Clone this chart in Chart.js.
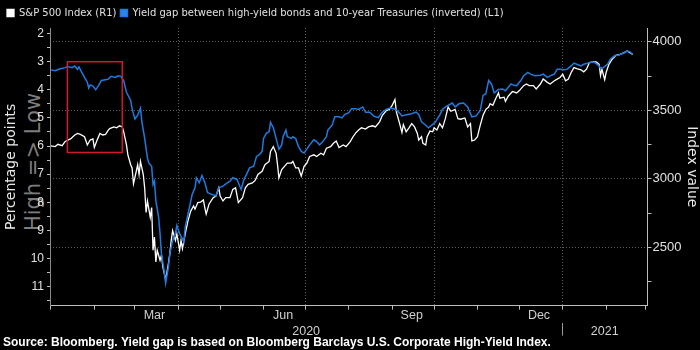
<!DOCTYPE html>
<html lang="en">
<head>
<meta charset="UTF-8">
<title>S&amp;P 500 vs high-yield yield gap</title>
<style>
  html, body { margin: 0; padding: 0; background: #000; }
  #wrap { position: relative; width: 700px; height: 350px; }
  /* big grey watermark-style axis note, sits behind the canvas */
  #hilo {
    position: absolute; left: 33px; top: 162px;
    transform: translate(-50%, -50%) rotate(-90deg);
    white-space: nowrap; font: 21px "DejaVu Sans"; color: #7d7d7d;
  }
  #chart { position: relative; }
</style>
<script src="https://cdn.jsdelivr.net/npm/chart.js"></script>
</head>
<body>
<div id="wrap">
  <div id="hilo">High =&gt; Low</div>
  <canvas id="chart" width="700" height="350"></canvas>
</div>
<script>
// x values are days counted from 1 Jan 2020
var spxDays = [0,3,5,8,10,12,14,17,19,21,24,26,28,30,31,33,35,37,39,41,42,45,47,49,51,52,54,55,57,58,59,61,62,63,64,66,67,68,69,71,72,73,74,75,76,78,79,80,81,82,84,85,86,87,89,90,92,93,94,96,98,100,102,103,105,107,109,110,111,113,116,118,120,121,123,125,128,130,132,134,137,139,141,144,146,148,151,153,156,157,159,161,162,163,165,167,169,172,173,175,177,179,181,183,185,188,190,193,195,197,200,202,204,206,209,211,214,216,218,220,222,225,227,230,232,235,237,240,242,244,246,247,249,251,252,254,256,258,260,262,263,265,266,268,269,271,273,274,276,278,280,282,284,286,289,291,293,296,298,300,301,303,305,307,309,311,313,314,316,318,320,321,324,325,327,330,331,333,335,338,340,342,345,347,350,352,355,357,360,362,364,366,368,370,372,374,376,379,381,383,385,388,390,392,393,394,396,397,399,401,404,407,410,412,414,416];
var spxValues = [3240,3235,3252,3242,3271,3283,3291,3320,3331,3324,3307,3247,3283,3291,3228,3283,3331,3320,3324,3356,3367,3379,3372,3387,3379,3343,3247,3175,3103,3079,2963,3055,3103,3031,3127,3031,2934,2754,2838,2718,2790,2478,2574,2393,2478,2405,2442,2357,2310,2261,2382,2454,2550,2622,2550,2598,2478,2550,2490,2598,2694,2766,2802,2778,2826,2830,2845,2790,2742,2814,2862,2874,2934,2874,2838,2862,2862,2923,2934,2826,2862,2934,2959,2970,2988,3031,3055,3103,3127,3199,3235,3187,3103,3006,3067,3091,3115,3115,3127,3079,3079,3019,3091,3115,3163,3175,3163,3187,3175,3223,3235,3259,3276,3228,3247,3235,3271,3307,3335,3356,3372,3363,3379,3387,3379,3416,3464,3500,3507,3536,3579,3488,3416,3338,3396,3343,3372,3403,3379,3331,3283,3307,3259,3247,3307,3348,3343,3372,3356,3403,3372,3439,3524,3493,3507,3439,3435,3444,3379,3403,3276,3283,3307,3392,3464,3507,3524,3548,3536,3584,3627,3589,3596,3565,3603,3637,3635,3627,3644,3680,3692,3680,3680,3656,3692,3728,3704,3692,3716,3728,3740,3764,3716,3728,3776,3812,3805,3796,3781,3800,3848,3853,3853,3836,3753,3800,3724,3776,3836,3868,3901,3908,3921,3933,3921,3908];

var gapDays = [0,3,6,10,12,15,17,19,20,22,24,26,27,28,30,32,34,36,39,41,43,46,48,50,52,54,57,58,60,62,64,65,67,69,70,72,73,74,75,77,78,79,81,82,84,85,87,89,90,92,94,95,96,98,101,103,104,106,108,110,112,115,118,120,123,126,128,130,133,135,136,138,140,142,145,147,149,151,152,154,156,157,159,161,163,165,166,168,169,172,173,175,177,179,181,183,185,188,190,192,194,197,198,201,203,206,208,210,213,215,218,220,223,225,228,231,234,237,240,243,246,249,251,255,258,261,263,265,268,270,273,275,278,280,283,287,289,292,295,298,301,304,307,309,311,313,315,317,320,323,325,329,331,333,336,338,341,343,346,350,352,355,358,360,362,364,367,369,372,374,376,379,381,384,387,389,392,393,395,398,400,403,406,409,412,414,416];
var gapValues = [3.29,3.32,3.26,3.21,3.17,3.21,3.15,3.27,3.18,3.38,3.56,3.73,3.94,3.83,3.87,4.00,3.85,3.67,3.64,3.62,3.52,3.56,3.50,3.52,3.67,4.09,4.38,4.67,5.04,4.90,4.65,5.14,5.73,6.43,6.61,6.72,7.37,7.25,7.95,8.54,9.12,9.83,10.47,10.88,10.30,9.83,9.36,9.12,8.83,9.12,9.30,9.42,8.89,8.42,7.72,7.49,7.13,7.31,7.05,7.30,7.66,7.72,7.78,7.49,7.43,7.31,7.25,7.13,7.19,7.43,7.54,7.19,6.99,6.78,6.72,6.37,6.31,6.19,5.73,5.55,5.49,5.16,5.35,5.73,6.11,5.96,5.67,5.43,5.67,5.73,5.67,5.73,6.02,6.19,6.25,6.11,5.96,5.78,5.84,5.96,5.87,5.67,5.43,5.26,4.96,4.96,5.00,4.88,4.81,4.67,4.67,4.70,4.61,4.80,4.80,4.94,4.99,4.79,4.69,4.65,4.69,4.81,4.93,4.88,4.85,4.79,4.88,5.14,5.26,5.35,5.23,5.14,4.90,4.69,4.58,4.47,4.61,4.49,4.47,4.61,4.96,4.93,4.73,4.20,4.14,3.67,3.79,4.11,3.99,3.97,4.03,3.79,3.84,3.85,3.67,3.50,3.38,3.44,3.50,3.48,3.44,3.56,3.48,3.44,3.27,3.27,3.29,3.27,3.15,3.05,3.09,3.15,3.09,3.05,3.01,3.03,3.15,3.24,3.21,3.09,2.91,2.79,2.76,2.70,2.62,2.65,2.74];

// axis ticks
var monthStarts = [0,31,60,91,121,152,182,213,244,274,305,335,366,397,425];
var quarterStarts = [91,182,274,366];
var monthLabelDays = [74,166,258,349];
var monthLabels = ['Mar','Jun','Sep','Dec'];
var yearTickDays = [182.5,366,396];
var yearLabels = ['2020','','2021'];
var gapTicks = [2,2.5,3,3.5,4,4.5,5,5.5,6,6.5,7,7.5,8,8.5,9,9.5,10,10.5,11,11.5];
var spxTicks = [2250,2500,2750,3000,3250,3500,3750,4000];

// red highlight box: [start day, end day, top gap, bottom gap]
var boxDays = [11.7, 51];
var boxGap = [3.0, 6.23];

var xMin = -0.7, xMax = 426.6;
var axisGrey = '#bdbdbd';
var gridGrey = '#5e5e5e';

function pts(days, vals) {
  return days.map(function(d, i) { return { x: d, y: vals[i] }; });
}

var highlightBox = {
  id: 'highlightBox',
  afterDatasetsDraw: function(chart) {
    var x = chart.scales.x, y = chart.scales.y, ctx = chart.ctx;
    var x0 = x.getPixelForValue(boxDays[0]), x1 = x.getPixelForValue(boxDays[1]);
    var y0 = y.getPixelForValue(boxGap[0]), y1 = y.getPixelForValue(boxGap[1]);
    ctx.save();
    ctx.strokeStyle = '#d2182f';
    ctx.lineWidth = 1.5;
    ctx.strokeRect(x0, y0, x1 - x0, y1 - y0);
    ctx.restore();
  }
};

new Chart('chart', {
  type: 'line',
  data: {
    datasets: [{
      label: 'S&P 500 Index (R1)',
      data: pts(spxDays, spxValues),
      yAxisID: 'y2',
      borderColor: '#ffffff',
      backgroundColor: '#ffffff',
      borderWidth: 1.3,
      pointRadius: 0,
      order: 1
    }, {
      label: 'Yield gap between high-yield bonds and 10-year Treasuries (inverted) (L1)',
      data: pts(gapDays, gapValues),
      yAxisID: 'y',
      borderColor: '#1f7ae0',
      backgroundColor: '#2b86ea',
      borderWidth: 1.5,
      pointRadius: 0,
      order: 0
    }]
  },
  options: {
    responsive: false,
    animation: false,
    parsing: false,
    layout: { padding: { left: 3, right: 0, top: 4, bottom: 0 } },
    plugins: {
      tooltip: { enabled: false },
      legend: {
        position: 'top',
        align: 'start',
        labels: {
          color: '#e0e0e0',
          font: { family: 'DejaVu Sans', size: 10 },
          boxWidth: 7,
          boxHeight: 7,
          padding: 4,
          sort: function(a, b) { return a.datasetIndex - b.datasetIndex; }
        }
      },
      title: {
        display: true,
        position: 'bottom',
        align: 'start',
        text: 'Source: Bloomberg. Yield gap is based on Bloomberg Barclays U.S. Corporate High-Yield Index.',
        color: '#ffffff',
        font: { family: 'Liberation Sans', size: 12, weight: 'bold' },
        padding: { top: 0, bottom: 0 }
      }
    },
    scales: {
      x: {
        type: 'linear', position: 'bottom', min: xMin, max: xMax,
        afterBuildTicks: function(s) { s.ticks = monthStarts.map(function(v) { return { value: v }; }); },
        ticks: { display: false },
        grid: {
          color: function(c) { return c.tick && quarterStarts.indexOf(c.tick.value) >= 0 ? gridGrey : 'transparent'; },
          tickColor: axisGrey, tickLength: 4
        },
        border: { color: axisGrey, dash: [1, 2] },
        afterFit: function(s) { s.height = 4; }
      },
      xm: {
        type: 'linear', position: 'bottom', min: xMin, max: xMax, weight: 1,
        afterBuildTicks: function(s) { s.ticks = monthLabelDays.map(function(v) { return { value: v }; }); },
        ticks: {
          autoSkip: false, maxRotation: 0, padding: -2, color: '#d0d0d0',
          font: { family: 'Liberation Sans', size: 12.5 },
          callback: function(v, i) { return monthLabels[i]; }
        },
        grid: { display: false, drawTicks: false },
        border: { display: false },
        afterFit: function(s) { s.height = 13; }
      },
      xy: {
        type: 'linear', position: 'bottom', min: xMin, max: xMax, weight: 2,
        afterBuildTicks: function(s) { s.ticks = yearTickDays.map(function(v) { return { value: v }; }); },
        ticks: {
          autoSkip: false, maxRotation: 0, padding: -12, color: '#d0d0d0',
          font: { family: 'Liberation Sans', size: 12.5 },
          callback: function(v, i) { return yearLabels[i]; }
        },
        grid: {
          drawOnChartArea: false, color: 'transparent', tickLength: 13,
          tickColor: function(c) { return c.tick && c.tick.value === 366 ? '#9a9a9a' : 'transparent'; }
        },
        border: { display: false },
        afterFit: function(s) { s.height = 13; }
      },
      y: {
        type: 'linear', position: 'left', reverse: true, min: 1.8, max: 11.68,
        afterBuildTicks: function(s) { s.ticks = gapTicks.map(function(v) { return { value: v }; }); },
        ticks: {
          autoSkip: false, padding: 3, color: '#e0e0e0',
          font: { family: 'Liberation Sans', size: 12 },
          callback: function(v) { return Number.isInteger(v) ? v : ''; }
        },
        grid: { drawOnChartArea: false, tickColor: axisGrey, tickLength: 3 },
        border: { color: '#8a8a8a' },
        title: {
          display: true, text: 'Percentage points', color: '#e8e8e8',
          font: { family: 'DejaVu Sans', size: 14 }, padding: 0
        },
        afterFit: function(s) { s.width = 47; }
      },
      y2: {
        type: 'linear', position: 'right', min: 2074, max: 4101,
        afterBuildTicks: function(s) { s.ticks = spxTicks.map(function(v) { return { value: v }; }); },
        ticks: {
          autoSkip: false, padding: 1, color: '#e0e0e0',
          font: { family: 'Liberation Sans', size: 13 },
          callback: function(v) { return v % 500 === 0 ? v : ''; }
        },
        grid: {
          color: function(c) { return c.tick && c.tick.value % 500 === 0 ? gridGrey : 'transparent'; },
          tickColor: axisGrey, tickLength: 4
        },
        border: { color: axisGrey, dash: [1, 2] },
        title: {
          display: true, text: 'Index value', color: '#e8e8e8',
          font: { family: 'DejaVu Sans', size: 14 }, padding: 0
        },
        afterFit: function(s) { s.width = 52.5; }
      }
    }
  },
  plugins: [highlightBox]
});
</script>
</body>
</html>
